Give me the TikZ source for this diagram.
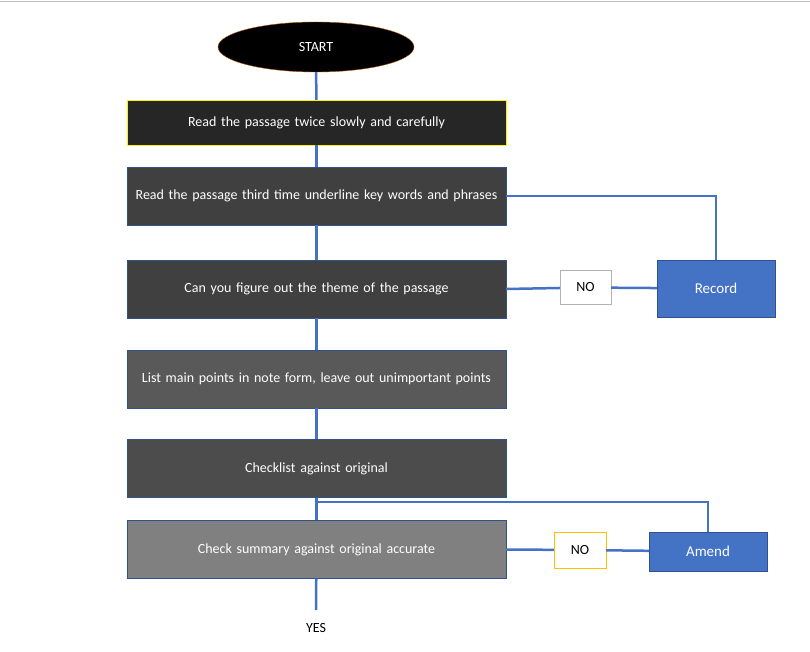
\documentclass[tikz,border=0pt]{standalone}
\usepackage{fontspec}
\setmainfont{Carlito}
\usetikzlibrary{shapes.geometric}
\definecolor{lineblue}{HTML}{4472C4}
\definecolor{edgeblue}{HTML}{2F528F}
\definecolor{noyellow}{HTML}{FFC000}
\tikzset{
	stage/.style={draw=edgeblue,text=white,minimum width=379pt,minimum height=58pt,
		text width=370pt,align=center,inner sep=0pt,font=\fontsize{14}{17}\selectfont},
	side/.style={draw=edgeblue,fill=lineblue,text=white,minimum width=118pt,
		inner sep=0pt,font=\fontsize{15}{18}\selectfont},
	nobox/.style={draw,fill=white,minimum width=51pt,minimum height=34pt,
		inner sep=0pt,font=\fontsize{14}{17}\selectfont},
	link/.style={lineblue,line width=2.5pt}
}
\begin{document}
\begin{tikzpicture}[x=1pt,y=-1pt]
	\useasboundingbox (0,0) rectangle (810,652);
	\draw[gray!50,thin] (0,1) -- (810,1);
	% main column
	\node[ellipse,draw=orange!70!black,fill=black,text=white,minimum width=196pt,
		minimum height=50pt,font=\fontsize{14}{17}\selectfont] (start) at (316,47) {START};
	\node[stage,fill=black!85,draw=yellow,minimum height=45pt] (twice) at (316.5,122.5)
		{Read the passage twice slowly and carefully};
	\node[stage,fill=black!75] (third) at (316.5,196) {Read the passage third time underline key words and phrases};
	\node[stage,fill=black!75] (theme) at (316.5,289) {Can you figure out the theme of the passage};
	\node[stage,fill=black!65] (points) at (316.5,379) {List main points in note form, leave out unimportant points};
	\node[stage,fill=black!70] (check) at (316.5,468.5) {Checklist against original};
	\node[stage,fill=black!50] (summary) at (316.5,549.5) {Check summary against original accurate};
	\node[font=\fontsize{14}{17}\selectfont] (yes) at (316,628) {YES};
	\coordinate (yesend) at (316,610);
	% side branches
	\node[side,minimum height=57pt] (record) at (716,288.5) {Record};
	\node[nobox,draw=gray!60] (no1) at (585.5,287.5) {NO};
	\node[side,minimum height=39pt] (amend) at (708,551.5) {Amend};
	\node[nobox,draw=noyellow,minimum width=52pt,minimum height=36pt] (no2) at (580,550) {NO};
	\coordinate (loop) at (708,502);
	% connectors
	\draw[link] (start) -- (twice);
	\draw[link] (twice) -- (third);
	\draw[link] (third) -- (theme);
	\draw[link] (theme) -- (points);
	\draw[link] (points) -- (check);
	\draw[link] (check) -- (summary);
	\draw[link] (summary) -- (yesend);
	\draw[link] (third.east) -| (record.north);
	\draw[link] (theme.east) -- (no1);
	\draw[link] (no1) -- (record);
	\draw[link] (summary.east) -- (no2);
	\draw[link] (no2) -- (amend);
	\draw[link] (check.south |- loop) -- (loop) -- (amend.north);
\end{tikzpicture}
\end{document}
